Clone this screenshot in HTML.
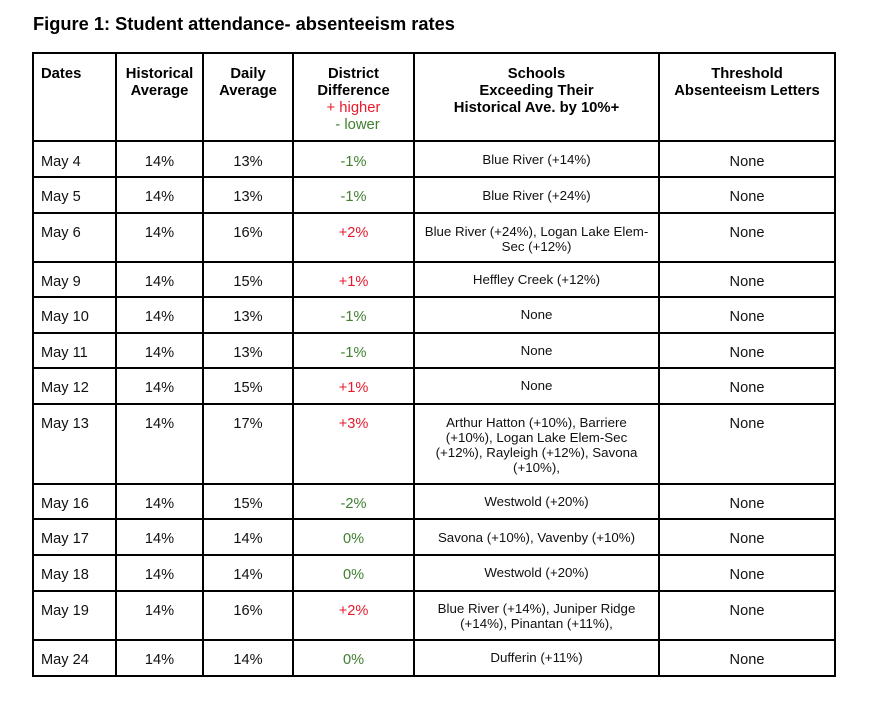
<!DOCTYPE html>
<html>
<head>
<meta charset="utf-8">
<style>
  html, body { margin:0; padding:0; background:#fff; }
  body { width:877px; height:703px; position:relative; overflow:hidden;
         font-family:"Liberation Sans", Arial, sans-serif; color:#111; }
  .t { position:absolute; left:33px; top:13px; font-size:18.25px; line-height:21px; font-weight:bold; white-space:nowrap; color:#000; }
  .h { position:absolute; height:2px; background:#000; left:32px; width:804px; }
  .v { position:absolute; width:2px; background:#000; top:52px; height:625px; }
  .c { position:absolute; font-size:14.6px; line-height:17px; white-space:nowrap; margin-top:2px; }
  .hd { font-weight:bold; font-size:14.8px; line-height:17.3px; color:#000; margin-top:2.5px; }
  .s { font-size:13.3px; line-height:15px; margin-top:0.5px; }
  .c1 { left:34px; width:108px; padding-left:7px; text-align:left; }
  .c2 { left:117px; width:85px; text-align:center; }
  .c3 { left:204px; width:88px; text-align:center; }
  .c4 { left:294px; width:119px; text-align:center; }
  .c5 { left:415px; width:243px; text-align:center; }
  .c6 { left:660px; width:174px; text-align:center; }
  .r { color:#e8192c; }
  .g { color:#3f7f2f; }
</style>
</head>
<body>
<div class="t">Figure 1: Student attendance- absenteeism rates</div>

<!-- horizontal lines -->
<div class="h" style="top:52px"></div>
<div class="h" style="top:140px"></div>
<div class="h" style="top:176px"></div>
<div class="h" style="top:212px"></div>
<div class="h" style="top:261px"></div>
<div class="h" style="top:296px"></div>
<div class="h" style="top:332px"></div>
<div class="h" style="top:367px"></div>
<div class="h" style="top:403px"></div>
<div class="h" style="top:483px"></div>
<div class="h" style="top:518px"></div>
<div class="h" style="top:554px"></div>
<div class="h" style="top:590px"></div>
<div class="h" style="top:639px"></div>
<div class="h" style="top:675px"></div>

<!-- vertical lines -->
<div class="v" style="left:32px"></div>
<div class="v" style="left:115px"></div>
<div class="v" style="left:202px"></div>
<div class="v" style="left:292px"></div>
<div class="v" style="left:413px"></div>
<div class="v" style="left:658px"></div>
<div class="v" style="left:834px"></div>

<!-- header -->
<div class="c hd c1" style="top:63px">Dates</div>
<div class="c hd c2" style="top:63px">Historical<br>Average</div>
<div class="c hd c3" style="top:63px">Daily<br>Average</div>
<div class="c hd c4" style="top:63px">District<br>Difference<br><span class="r" style="font-weight:normal">+ higher</span><br><span class="g" style="font-weight:normal;position:relative;left:4px">- lower</span></div>
<div class="c hd c5" style="top:63px">Schools<br>Exceeding Their<br>Historical Ave. by 10%+</div>
<div class="c hd c6" style="top:63px">Threshold<br>Absenteeism Letters</div>

<!-- May 4 -->
<div class="c c1" style="top:152px">May 4</div>
<div class="c c2" style="top:152px">14%</div>
<div class="c c3" style="top:152px">13%</div>
<div class="c c4 g" style="top:152px">-1%</div>
<div class="c s c5" style="top:151px">Blue River (+14%)</div>
<div class="c c6" style="top:152px">None</div>

<!-- May 5 -->
<div class="c c1" style="top:187px">May 5</div>
<div class="c c2" style="top:187px">14%</div>
<div class="c c3" style="top:187px">13%</div>
<div class="c c4 g" style="top:187px">-1%</div>
<div class="c s c5" style="top:187px">Blue River (+24%)</div>
<div class="c c6" style="top:187px">None</div>

<!-- May 6 -->
<div class="c c1" style="top:223px">May 6</div>
<div class="c c2" style="top:223px">14%</div>
<div class="c c3" style="top:223px">16%</div>
<div class="c c4 r" style="top:223px">+2%</div>
<div class="c s c5" style="top:223px">Blue River (+24%), Logan Lake Elem-<br>Sec (+12%)</div>
<div class="c c6" style="top:223px">None</div>

<!-- May 9 -->
<div class="c c1" style="top:272px">May 9</div>
<div class="c c2" style="top:272px">14%</div>
<div class="c c3" style="top:272px">15%</div>
<div class="c c4 r" style="top:272px">+1%</div>
<div class="c s c5" style="top:271px">Heffley Creek (+12%)</div>
<div class="c c6" style="top:272px">None</div>

<!-- May 10 -->
<div class="c c1" style="top:307px">May 10</div>
<div class="c c2" style="top:307px">14%</div>
<div class="c c3" style="top:307px">13%</div>
<div class="c c4 g" style="top:307px">-1%</div>
<div class="c s c5" style="top:306px">None</div>
<div class="c c6" style="top:307px">None</div>

<!-- May 11 -->
<div class="c c1" style="top:343px">May 11</div>
<div class="c c2" style="top:343px">14%</div>
<div class="c c3" style="top:343px">13%</div>
<div class="c c4 g" style="top:343px">-1%</div>
<div class="c s c5" style="top:342px">None</div>
<div class="c c6" style="top:343px">None</div>

<!-- May 12 -->
<div class="c c1" style="top:378px">May 12</div>
<div class="c c2" style="top:378px">14%</div>
<div class="c c3" style="top:378px">15%</div>
<div class="c c4 r" style="top:378px">+1%</div>
<div class="c s c5" style="top:377px">None</div>
<div class="c c6" style="top:378px">None</div>

<!-- May 13 -->
<div class="c c1" style="top:414px">May 13</div>
<div class="c c2" style="top:414px">14%</div>
<div class="c c3" style="top:414px">17%</div>
<div class="c c4 r" style="top:414px">+3%</div>
<div class="c s c5" style="top:414px">Arthur Hatton (+10%), Barriere<br>(+10%), Logan Lake Elem-Sec<br>(+12%), Rayleigh (+12%), Savona<br>(+10%),</div>
<div class="c c6" style="top:414px">None</div>

<!-- May 16 -->
<div class="c c1" style="top:494px">May 16</div>
<div class="c c2" style="top:494px">14%</div>
<div class="c c3" style="top:494px">15%</div>
<div class="c c4 g" style="top:494px">-2%</div>
<div class="c s c5" style="top:493px">Westwold (+20%)</div>
<div class="c c6" style="top:494px">None</div>

<!-- May 17 -->
<div class="c c1" style="top:529px">May 17</div>
<div class="c c2" style="top:529px">14%</div>
<div class="c c3" style="top:529px">14%</div>
<div class="c c4 g" style="top:529px">0%</div>
<div class="c s c5" style="top:529px">Savona (+10%), Vavenby (+10%)</div>
<div class="c c6" style="top:529px">None</div>

<!-- May 18 -->
<div class="c c1" style="top:565px">May 18</div>
<div class="c c2" style="top:565px">14%</div>
<div class="c c3" style="top:565px">14%</div>
<div class="c c4 g" style="top:565px">0%</div>
<div class="c s c5" style="top:564px">Westwold (+20%)</div>
<div class="c c6" style="top:565px">None</div>

<!-- May 19 -->
<div class="c c1" style="top:601px">May 19</div>
<div class="c c2" style="top:601px">14%</div>
<div class="c c3" style="top:601px">16%</div>
<div class="c c4 r" style="top:601px">+2%</div>
<div class="c s c5" style="top:600px">Blue River (+14%), Juniper Ridge<br>(+14%), Pinantan (+11%),</div>
<div class="c c6" style="top:601px">None</div>

<!-- May 24 -->
<div class="c c1" style="top:650px">May 24</div>
<div class="c c2" style="top:650px">14%</div>
<div class="c c3" style="top:650px">14%</div>
<div class="c c4 g" style="top:650px">0%</div>
<div class="c s c5" style="top:649px">Dufferin (+11%)</div>
<div class="c c6" style="top:650px">None</div>
</body>
</html>
